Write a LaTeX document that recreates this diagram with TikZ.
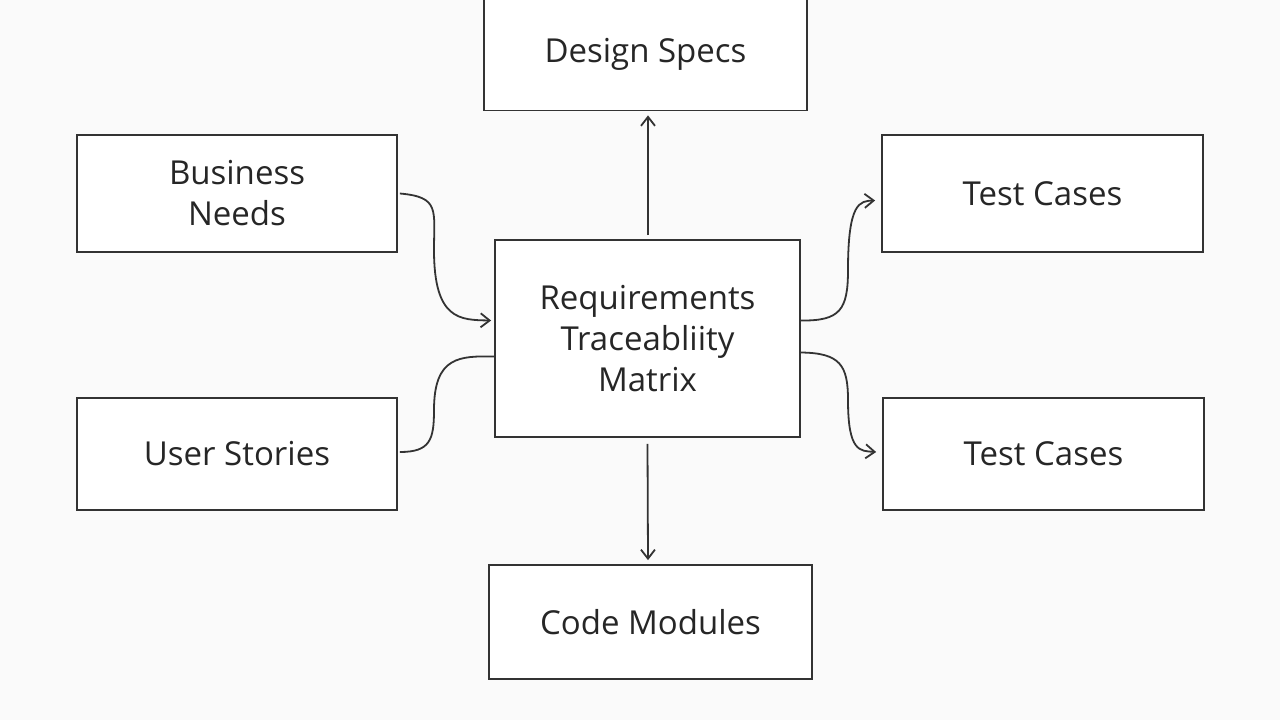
\documentclass[tikz,border=0pt]{standalone}
\usepackage{fontspec}
\setmainfont{Open Sans}
\usetikzlibrary{arrows.meta}
\begin{document}
\begin{tikzpicture}[x=1pt,y=-1pt,
  box/.style={draw=black!80,line width=1.8pt,fill=white,inner sep=0pt,align=center,font=\fontsize{33}{41}\selectfont,text=black!85},
  conn/.style={draw=black!80,line width=1.8pt,-{Straight Barb[length=9pt,width=14pt]}},
  plain/.style={draw=black!80,line width=1.8pt}]
\fill[black!2] (0,0) rectangle (1280,720);
\useasboundingbox (0,0) rectangle (1280,720);
\node[box,minimum width=323pt,minimum height=113pt] (ds) at (645.5,54) {Design Specs};
\node[box,minimum width=320pt,minimum height=117pt] (bn) at (237,193.5) {Business\\Needs};
\node[box,minimum width=321pt,minimum height=117pt] (t1) at (1042.5,193.5) {Test Cases};
\node[box,minimum width=305pt,minimum height=197pt] (rtm) at (647.5,338.5) {Requirements\\Traceabliity\\Matrix};
\node[box,minimum width=320pt,minimum height=112pt] (us) at (237,454) {User Stories};
\node[box,minimum width=321pt,minimum height=112pt] (t2) at (1043.5,454) {Test Cases};
\node[box,minimum width=323pt,minimum height=114pt] (cm) at (650.5,622) {Code Modules};
\draw[conn] ([xshift=0.5pt,yshift=4pt]rtm.north) -- ([xshift=2.5pt,yshift=-4pt]ds.south);
\draw[conn] ([yshift=-6pt]rtm.south) -- ([xshift=-2.5pt,yshift=4pt]cm.north);
\draw[plain] ([xshift=2pt]bn.east) .. controls (440,197) and (434,210) .. (434,250);
\draw[conn] (434,250) .. controls (434,320) and (460,320) .. ([xshift=-3pt,yshift=18pt]rtm.west);
\draw[plain] ([xshift=2pt,yshift=2pt]us.east) .. controls (430,452) and (434,440) .. (434,410) .. controls (434,356) and (460,356) .. ([yshift=-18pt]rtm.west);
\draw[plain] ([yshift=18pt]rtm.east) .. controls (840,321) and (848,310) .. (848,270);
\draw[conn] (848,270) .. controls (848,202) and (860,201) .. ([xshift=-6pt,yshift=-7pt]t1.west);
\draw[plain] ([yshift=-14pt]rtm.east) .. controls (840,353) and (848,365) .. (848,400);
\draw[conn] (848,400) .. controls (848,452) and (860,451) .. ([xshift=-6pt,yshift=2pt]t2.west);
\end{tikzpicture}
\end{document}
